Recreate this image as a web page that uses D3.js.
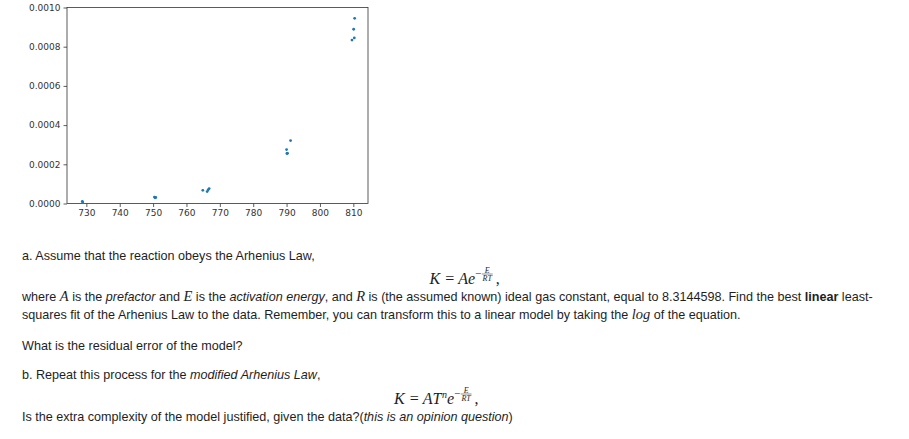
<!DOCTYPE html>
<html>
<head>
<meta charset="utf-8">
<script src="https://cdn.jsdelivr.net/npm/d3@7"></script>
<style>
  body { margin: 0; background: #fff; }
  svg { display: block; }
</style>
</head>
<body>
<div id="chart"></div>
<script>
// Scatter data: temperature vs rate constant
const temps = [728.8, 728.9, 750.4, 750.6, 750.8, 764.9, 766.2, 766.5, 766.8,
               790.0, 790.1, 790.3, 791.2, 809.6, 810.1, 810.3, 810.4];
const rates = [0.000011, 0.000004, 0.000033, 0.000029, 0.000031, 0.000067, 0.000061, 0.000070, 0.000076,
               0.000275, 0.000255, 0.000256, 0.000321, 0.000834, 0.000889, 0.000845, 0.000945];
const xTicks = [730, 740, 750, 760, 770, 780, 790, 800, 810];
const yTicks = [0, 0.0002, 0.0004, 0.0006, 0.0008, 0.0010];

const width = 909, height = 439;
const plot = { left: 67, right: 368, top: 7.5, bottom: 203.5 };

const svg = d3.select("#chart").append("svg")
    .attr("width", width)
    .attr("height", height);

svg.append("rect").attr("width", width).attr("height", height).attr("fill", "#fff");

const x = d3.scaleLinear()
    .domain([724.2, 814.4])
    .range([plot.left, plot.right]);

const y = d3.scaleLinear()
    .domain([0, 0.001])
    .range([plot.bottom, plot.top]);

const xAxis = d3.axisBottom(x)
    .tickValues(xTicks)
    .tickFormat(d3.format("d"))
    .tickSize(3.5)
    .tickSizeOuter(0)
    .tickPadding(3);

const yAxis = d3.axisLeft(y)
    .tickValues(yTicks)
    .tickFormat(d3.format(".4f"))
    .tickSize(3.5)
    .tickSizeOuter(0)
    .tickPadding(3);

svg.append("g")
    .attr("transform", `translate(0,${plot.bottom})`)
    .call(xAxis);

svg.append("g")
    .attr("transform", `translate(${plot.left},0)`)
    .call(yAxis);

svg.selectAll(".tick text")
    .style("font-family", "DejaVu Sans")
    .style("font-size", "9px")
    .attr("fill", "#333");
svg.selectAll(".tick line").attr("stroke", "#333").attr("stroke-width", 0.8);
svg.selectAll(".domain").remove();

// frame round the axes
svg.append("rect")
    .attr("x", plot.left)
    .attr("y", plot.top)
    .attr("width", plot.right - plot.left)
    .attr("height", plot.bottom - plot.top)
    .attr("fill", "none")
    .attr("stroke", "#333")
    .attr("stroke-width", 0.8);

svg.append("g")
    .selectAll("circle")
    .data(temps.map((t, i) => [t, rates[i]]))
    .enter()
    .append("circle")
    .attr("cx", d => x(d[0]))
    .attr("cy", d => y(d[1]))
    .attr("r", 1.4)
    .attr("fill", "#1f77b4");

// ---- text under the plot ----
const sans = "'Liberation Sans', Arial, sans-serif";
const serif = "'Liberation Serif', 'Times New Roman', serif";
const textColor = "#1e1e1e";

function line(yPos, parts) {
    const t = svg.append("text")
        .attr("x", 22)
        .attr("y", yPos)
        .style("font-family", sans)
        .style("font-size", "12.6px")
        .attr("fill", textColor);
    parts.forEach(p => {
        if (typeof p === "string") p = { t: p };
        const s = t.append("tspan").text(p.t);
        if (p.i) s.style("font-style", "italic");
        if (p.b) s.style("font-weight", "bold");
        if (p.m) s.style("font-family", serif).style("font-style", "italic").style("font-size", "14.5px");
    });
}

// draws a run of math pieces left to right
function mathRow(x0, base, pieces) {
    let cx = x0;
    pieces.forEach(p => {
        if (p.frac) {
            const bar = base - p.raise;
            const num = svg.append("text")
                .attr("y", bar - 1.5)
                .style("font-family", serif).style("font-style", "italic")
                .style("font-size", "8px").attr("fill", textColor).text(p.frac[0]);
            const den = svg.append("text")
                .attr("y", bar + 6.5)
                .style("font-family", serif).style("font-style", "italic")
                .style("font-size", "8px").attr("fill", textColor).text(p.frac[1]);
            const w = Math.max(num.node().getComputedTextLength(), den.node().getComputedTextLength()) + 1.5;
            num.attr("x", cx + (w - num.node().getComputedTextLength()) / 2);
            den.attr("x", cx + (w - den.node().getComputedTextLength()) / 2);
            svg.append("line")
                .attr("x1", cx).attr("x2", cx + w)
                .attr("y1", bar).attr("y2", bar)
                .attr("stroke", textColor).attr("stroke-width", 0.5);
            cx += w + (p.after || 0);
        } else {
            const el = svg.append("text")
                .attr("x", cx)
                .attr("y", base - (p.raise || 0))
                .style("font-family", serif)
                .style("font-style", p.up ? "normal" : "italic")
                .style("font-size", (p.size || 16) + "px")
                .attr("fill", textColor)
                .text(p.t);
            cx += el.node().getComputedTextLength() + (p.after || 0);
        }
    });
}

line(260, ["a. Assume that the reaction obeys the Arhenius Law,"]);

mathRow(429.5, 284, [
    { t: "K", after: 5 },
    { t: "=", up: true, after: 4 },
    { t: "A" },
    { t: "e" },
    { t: "\u2212", up: true, size: 11, raise: 7, after: 0.5 },
    { frac: ["E", "RT"], raise: 10, after: 3 },
    { t: ",", up: true }
]);

line(301, [
    "where ", { t: "A", m: 1 }, " is the ", { t: "prefactor", i: 1 }, " and ", { t: "E", m: 1 },
    " is the ", { t: "activation energy", i: 1 }, ", and ", { t: "R", m: 1 },
    " is (the assumed known) ideal gas constant, equal to 8.3144598. Find the best ",
    { t: "linear", b: 1 }, " least-"
]);
line(318.5, [
    "squares fit of the Arhenius Law to the data. Remember, you can transform this to a linear model by taking the ",
    { t: "log", m: 1 }, " of the equation."
]);
line(349.5, ["What is the residual error of the model?"]);
line(379, ["b. Repeat this process for the ", { t: "modified Arhenius Law", i: 1 }, ","]);

mathRow(394, 404, [
    { t: "K", after: 5 },
    { t: "=", up: true, after: 4 },
    { t: "A" },
    { t: "T", after: 0.5 },
    { t: "n", size: 10, raise: 6.5 },
    { t: "e" },
    { t: "\u2212", up: true, size: 11, raise: 7, after: 0.5 },
    { frac: ["E", "RT"], raise: 10, after: 3 },
    { t: ",", up: true }
]);

line(421, [
    "Is the extra complexity of the model justified, given the data?(",
    { t: "this is an opinion question", i: 1 }, ")"
]);
</script>
</body>
</html>
